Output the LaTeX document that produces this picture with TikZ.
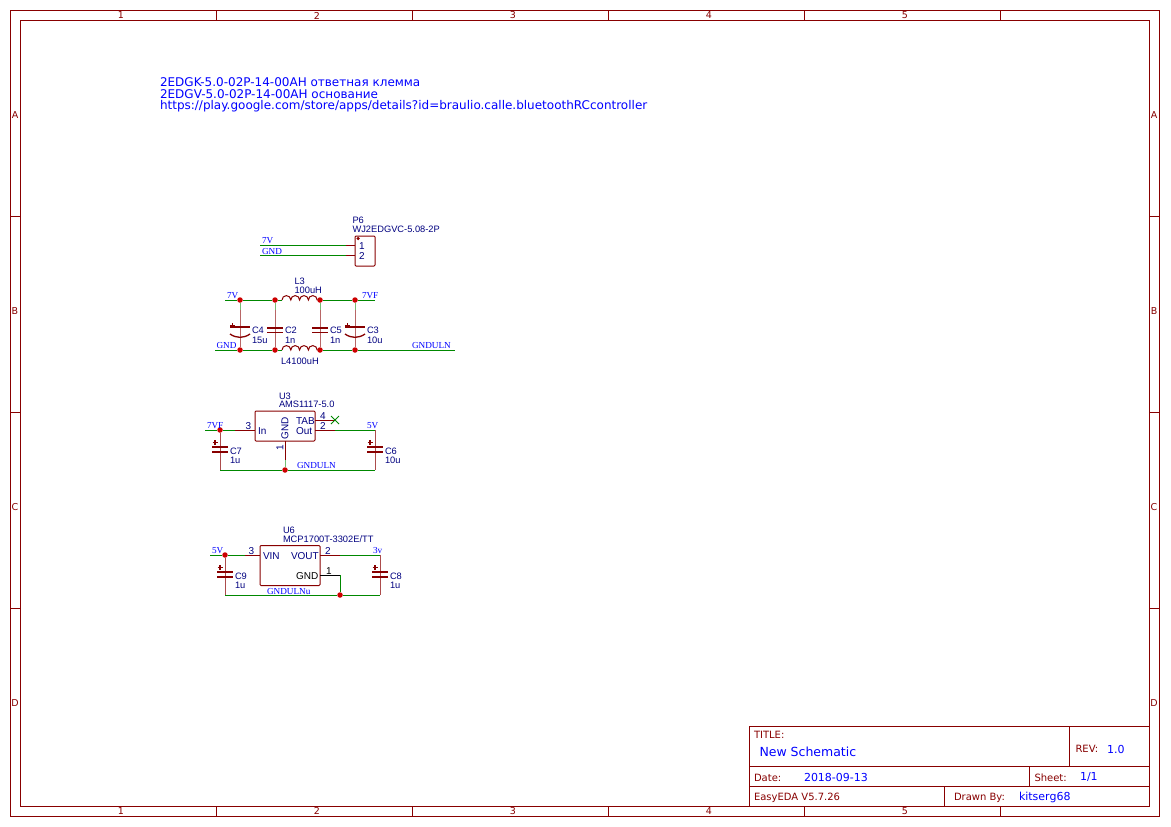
\documentclass[tikz,border=0pt]{standalone}
\usepackage{fontspec}
\setmainfont{DejaVu Sans}
\newfontfamily\partfont{Liberation Sans}
\newfontfamily\netfont{Liberation Serif}
\usetikzlibrary{positioning,calc}
\definecolor{framered}{HTML}{880000}
\definecolor{wiregreen}{HTML}{008800}
\definecolor{dotred}{HTML}{CC0000}
\definecolor{partblue}{HTML}{000080}
\definecolor{noteblue}{HTML}{0000FF}

\begin{document}
\begin{tikzpicture}[x=1pt, y=-1pt, semithick]
	\tikzstyle{every node}=[inner sep=0pt, outer sep=0pt]
	\tikzstyle{frame}=[draw=framered, line width=1pt]
	\tikzstyle{zone}=[text=framered, font=\fontsize{9.5}{10}\selectfont]
	\tikzstyle{tb}=[text=framered, anchor=west, font=\fontsize{10}{11}\selectfont]
	\tikzstyle{tbval}=[text=noteblue, anchor=west, font=\fontsize{11}{12}\selectfont]
	\tikzstyle{note}=[text=noteblue, anchor=west, font=\fontsize{12}{13}\selectfont]
	\tikzstyle{part}=[text=partblue, anchor=west, font=\partfont\fontsize{9.3}{10}\selectfont]
	\tikzstyle{pinno}=[text=partblue, anchor=west, font=\partfont\fontsize{10}{10}\selectfont]
	\tikzstyle{net}=[text=noteblue, anchor=west, font=\netfont\fontsize{9.2}{10}\selectfont]
	\tikzstyle{wire}=[draw=wiregreen, line width=1pt]
	\tikzstyle{pinline}=[draw=framered, line width=1pt]
	\tikzstyle{symbol}=[draw=framered, line width=1pt, rounded corners=1pt]
	\tikzstyle{junction}=[circle, fill=dotred, minimum size=5.5pt]
	\tikzstyle{plate}=[draw=framered, line width=1.3pt]
	\tikzstyle{fatplate}=[draw=framered, line width=2.5pt]

	\useasboundingbox (0,0) rectangle (1171,827);
	\fill[white] (0,0) rectangle (1171,827);

	% sheet frame
	\coordinate (outerTL) at (10,10.7);
	\coordinate (outerBR) at (1159,816);
	\coordinate (innerTL) at (20,20);
	\coordinate (innerBR) at (1149,806);
	\draw[frame] (outerTL) rectangle (outerBR);
	\draw[frame] (innerTL) rectangle (innerBR);
	\draw[frame] (216,11) -- (216,20) (412,11) -- (412,20) (608,11) -- (608,20) (804,11) -- (804,20) (1000,11) -- (1000,20);
	\draw[frame] (216,806) -- (216,816) (412,806) -- (412,816) (608,806) -- (608,816) (804,806) -- (804,816) (1000,806) -- (1000,816);
	\draw[frame] (10,216) -- (20,216) (10,412) -- (20,412) (10,608) -- (20,608);
	\draw[frame] (1149,216) -- (1159,216) (1149,412) -- (1159,412) (1149,608) -- (1159,608);
	\node[zone] (top1) at (121,15.5) {1};
	\node[zone] (top2) at (317,15.5) {2};
	\node[zone] (top3) at (513,15.5) {3};
	\node[zone] (top4) at (709,15.5) {4};
	\node[zone] (top5) at (905,15.5) {5};
	\node[zone] (bot1) at (121,811) {1};
	\node[zone] (bot2) at (317,811) {2};
	\node[zone] (bot3) at (513,811) {3};
	\node[zone] (bot4) at (709,811) {4};
	\node[zone] (bot5) at (905,811) {5};
	\node[zone] (leftA) at (15,115.5) {A};
	\node[zone] (leftB) at (15,311.5) {B};
	\node[zone] (leftC) at (15,507.5) {C};
	\node[zone] (leftD) at (15,703.5) {D};
	\node[zone] (rightA) at (1154,115.5) {A};
	\node[zone] (rightB) at (1154,311.5) {B};
	\node[zone] (rightC) at (1154,507.5) {C};
	\node[zone] (rightD) at (1154,703.5) {D};

	% title block
	\draw[frame, fill=white] (749,726.7) rectangle (1149,806);
	\draw[frame] (749,766) -- (1149,766) (749,786) -- (1149,786);
	\draw[frame] (1069,726.7) -- (1069,766) (1029,766) -- (1029,786) (944,786) -- (944,806);
	\node[tb] (titleLbl) at (754,734.5) {TITLE:};
	\node[tbval, font=\fontsize{12.5}{13}\selectfont] (titleVal) at (759.5,752) {New Schematic};
	\node[tb] (revLbl) at (1075.5,748.5) {REV:};
	\node[tbval] (revVal) at (1107,749) {1.0};
	\node[tb] (dateLbl) at (754,777.5) {Date:};
	\node[tbval] (dateVal) at (804,777) {2018-09-13};
	\node[tb] (sheetLbl) at (1034.5,777.5) {Sheet:};
	\node[tbval] (sheetVal) at (1080,777) {1/1};
	\node[tb] (editor) at (754,797.5) {EasyEDA V5.7.26};
	\node[tb] (drawnLbl) at (954,797.5) {Drawn By:};
	\node[tbval] (drawnVal) at (1019,797) {kitserg68};

	% notes
	\node[note] (note1) at (160,82) {2EDGK-5.0-02P-14-00AH ответная клемма};
	\node[note] (note2) [below=12pt of note1.west, anchor=west] {2EDGV-5.0-02P-14-00AH основание};
	\node[note] (note3) [below=12pt of note2.west, anchor=west] {https://play.google.com/store/apps/details?id=braulio.calle.bluetoothRCcontroller};

	% P6
	\node[symbol, draw, minimum width=20pt, minimum height=30pt] (P6) at (365,251) {};
	\node[part] (P6ref) at (352.5,220.5) {P6};
	\node[part] (P6val) [below=9pt of P6ref.west, anchor=west] {WJ2EDGVC-5.08-2P};
	\node[junction, minimum size=3.5pt, fill=framered] (P6dot) at (358,238.5) {};
	\node[pinno] (P6n1) at (359,246.5) {1};
	\node[pinno] (P6n2) at (359,256.5) {2};
	\coordinate (P6a) at (260,245.5);
	\coordinate (P6b) at (260,255.5);
	\coordinate (P6c) at (346,245.5);
	\coordinate (P6d) at (346,255.5);
	\draw[wire] (P6a) -- (P6c);
	\draw[wire] (P6b) -- (P6d);
	\draw[pinline] (P6c) -- (P6.west |- P6c);
	\draw[pinline] (P6d) -- (P6.west |- P6d);
	\node[net] (P6net1) at (262,240.5) {7V};
	\node[net] (P6net2) at (262,251) {GND};

	% input filter
	\node[junction] (F1) at (240,300) {};
	\node[junction] (F2) at (275,300) {};
	\node[junction] (F3) at (320,300) {};
	\node[junction] (F4) at (355,300) {};
	\node[junction] (F5) at (240,350) {};
	\node[junction] (F6) at (275,350) {};
	\node[junction] (F7) at (320,350) {};
	\node[junction] (F8) at (355,350) {};
	\coordinate (Fa) at (225,300);
	\coordinate (Fb) at (375,300);
	\coordinate (Fc) at (215,350);
	\coordinate (Fd) at (455,350);
	\coordinate (L3a) at (282,300);
	\coordinate (L4a) at (282,350);
	\draw[wire] (Fa) -- (F1) -- (F2) -- (L3a);
	\draw[wire] (F3) -- (F4) -- (Fb);
	\draw[wire] (Fc) -- (F5) -- (F6) -- (L4a);
	\draw[wire] (F7) -- (F8) -- (Fd);
	\draw[pinline] (L3a) arc[start angle=180, end angle=0, radius=4.4pt] arc[start angle=180, end angle=0, radius=4.4pt] arc[start angle=180, end angle=0, radius=4.4pt] arc[start angle=180, end angle=0, radius=4.4pt] -- (F3);
	\draw[pinline] (L4a) arc[start angle=180, end angle=0, radius=4.4pt] arc[start angle=180, end angle=0, radius=4.4pt] arc[start angle=180, end angle=0, radius=4.4pt] arc[start angle=180, end angle=0, radius=4.4pt] -- (F7);
	\coordinate (C4up) at (240,310);
	\coordinate (C2up) at (275,310);
	\coordinate (C5up) at (320,310);
	\coordinate (C3up) at (355,310);
	\draw[wire, draw=wiregreen!55] (F1) -- (C4up);
	\draw[wire, draw=wiregreen!55] (F2) -- (C2up);
	\draw[wire, draw=wiregreen!55] (F3) -- (C5up);
	\draw[wire, draw=wiregreen!55] (F4) -- (C3up);
	\draw[pinline, draw=framered!60] (C4up) -- (F5);
	\draw[pinline, draw=framered!60] (C2up) -- (F6);
	\draw[pinline, draw=framered!60] (C5up) -- (F7);
	\draw[pinline, draw=framered!60] (C3up) -- (F8);
	\coordinate (C4a) at (230,327);
	\coordinate (C4b) at (250,327);
	\coordinate (C4c) at (230,334);
	\coordinate (C4d) at (250,334);
	\coordinate (C3a) at (345,327);
	\coordinate (C3b) at (365,327);
	\coordinate (C3c) at (345,334);
	\coordinate (C3d) at (365,334);
	\coordinate (C2a) at (267,328);
	\coordinate (C2b) at (283,328);
	\coordinate (C2c) at (267,332.5);
	\coordinate (C2d) at (283,332.5);
	\coordinate (C5a) at (312,328);
	\coordinate (C5b) at (328,328);
	\coordinate (C5c) at (312,332.5);
	\coordinate (C5d) at (328,332.5);
	\draw[plate] (C4a) -- (C4b);
	\draw[plate] (C4c) to[bend right=35] (C4d);
	\draw[plate] (C3a) -- (C3b);
	\draw[plate] (C3c) to[bend right=35] (C3d);
	\draw[plate] (C2a) -- (C2b);
	\draw[plate] (C2c) -- (C2d);
	\draw[plate] (C5a) -- (C5b);
	\draw[plate] (C5c) -- (C5d);
	\draw[plate] (230,325.5) -- (235,325.5) (232.5,323) -- (232.5,328);
	\draw[plate] (345,325.5) -- (350,325.5) (347.5,323) -- (347.5,328);
	\node[part] (L3ref) at (294.5,281.5) {L3};
	\node[part] (L3val) [below=9pt of L3ref.west, anchor=west] {100uH};
	\node[part] (L4ref) at (281,361.5) {L4100uH};
	\node[part] (C4ref) at (252,330) {C4};
	\node[part] (C4val) [below=10pt of C4ref.west, anchor=west] {15u};
	\node[part] (C2ref) at (285,330) {C2};
	\node[part] (C2val) [below=10pt of C2ref.west, anchor=west] {1n};
	\node[part] (C5ref) at (330,330) {C5};
	\node[part] (C5val) [below=10pt of C5ref.west, anchor=west] {1n};
	\node[part] (C3ref) at (367,330) {C3};
	\node[part] (C3val) [below=10pt of C3ref.west, anchor=west] {10u};
	\node[net] (Fnet1) at (227,295.5) {7V};
	\node[net] (Fnet2) at (362,295.5) {7VF};
	\node[net] (Fnet3) at (216.5,345.5) {GND};
	\node[net] (Fnet4) at (412,345.5) {GNDULN};

	% U3
	\node[symbol, draw, minimum width=60pt, minimum height=30pt] (U3) at (285,426) {};
	\node[part] (U3ref) at (279,396) {U3};
	\node[part] (U3val) [below=8.5pt of U3ref.west, anchor=west] {AMS1117-5.0};
	\node[pinno] (U3in) at (258,431) {In};
	\node[pinno] (U3tab) at (296,421) {TAB};
	\node[pinno] (U3out) at (296,431) {Out};
	\node[pinno, anchor=center, rotate=90] (U3gnd) at (285,428) {GND};
	\node[pinno] (U3n3) at (245.5,426.5) {3};
	\node[pinno] (U3n4) at (320,416.5) {4};
	\node[pinno] (U3n2) at (320,426.5) {2};
	\node[pinno, anchor=center, rotate=90] (U3n1) at (280,448) {1};
	\node[junction] (U3j1) at (220,430) {};
	\node[junction] (U3j2) at (285,470) {};
	\coordinate (U3a) at (205,430);
	\coordinate (U3b) at (235,430);
	\coordinate (U3c) at (335,430);
	\coordinate (U3d) at (375,430);
	\coordinate (U3e) at (335,420);
	\coordinate (U3f) at (285,460);
	\coordinate (U3g) at (220,470);
	\coordinate (U3h) at (375,470);
	\draw[wire] (U3a) -- (U3j1) -- (U3b);
	\draw[pinline] (U3b) -- (U3.west |- U3b);
	\draw[pinline] (U3.east |- U3c) -- (U3c);
	\draw[wire] (U3c) -- (U3d);
	\draw[pinline] (U3.east |- U3e) -- (U3e);
	\draw[wire] (331,416) -- (339,424) (339,416) -- (331,424);
	\draw[pinline] (U3.south) -- (U3f);
	\draw[wire, draw=wiregreen!55] (U3f) -- (U3j2);
	\draw[pinline, draw=framered!70] (U3j1) -- (U3g);
	\draw[pinline, draw=framered!70] (U3d) -- (U3h);
	\draw[wire] (U3g) -- (U3j2) -- (U3h);
	\draw[plate] (212,447) -- (228,447);
	\draw[fatplate] (212,452) -- (228,452);
	\draw[plate] (367,447) -- (383,447);
	\draw[fatplate] (367,452) -- (383,452);
	\draw[plate] (212.5,442.5) -- (217.5,442.5) (215,440) -- (215,445);
	\draw[plate] (367.5,442.5) -- (372.5,442.5) (370,440) -- (370,445);
	\node[part] (C7ref) at (230,451) {C7};
	\node[part] (C7val) [below=9.5pt of C7ref.west, anchor=west] {1u};
	\node[part] (C6ref) at (385,451) {C6};
	\node[part] (C6val) [below=9.5pt of C6ref.west, anchor=west] {10u};
	\node[net] (U3net1) at (207,425.5) {7VF};
	\node[net] (U3net2) at (367,425.5) {5V};
	\node[net] (U3net3) at (297,465.5) {GNDULN};

	% U6
	\node[symbol, draw, minimum width=60pt, minimum height=40pt] (U6) at (290,565.5) {};
	\node[part] (U6ref) at (283,530.5) {U6};
	\node[part] (U6val) [below=8.5pt of U6ref.west, anchor=west] {MCP1700T-3302E/TT};
	\node[pinno] (U6vin) at (263,556) {VIN};
	\node[pinno] (U6vout) at (291,556) {VOUT};
	\node[pinno, text=black] (U6gnd) at (296,576) {GND};
	\node[pinno] (U6n3) at (248.5,551.5) {3};
	\node[pinno] (U6n2) at (325,551.5) {2};
	\node[pinno, text=black] (U6n1) at (326,571.5) {1};
	\node[junction] (U6j1) at (225,555) {};
	\node[junction] (U6j2) at (340,595) {};
	\coordinate (U6a) at (210,555);
	\coordinate (U6b) at (245,555);
	\coordinate (U6c) at (340,555);
	\coordinate (U6d) at (380,555);
	\coordinate (U6e) at (340,575);
	\coordinate (U6f) at (225,595);
	\coordinate (U6g) at (380,595);
	\draw[wire] (U6a) -- (U6j1) -- (U6b);
	\draw[pinline] (U6b) -- (U6.west |- U6b);
	\draw[pinline] (U6.east |- U6c) -- (U6c);
	\draw[wire] (U6c) -- (U6d);
	\draw[draw=black, line width=1pt] (U6.east |- U6e) -- (U6e);
	\draw[wire] (U6e) -- (U6j2);
	\draw[pinline, draw=framered!70] (U6j1) -- (U6f);
	\draw[pinline, draw=framered!70] (U6d) -- (U6g);
	\draw[wire] (U6f) -- (U6j2) -- (U6g);
	\draw[plate] (217,572) -- (233,572);
	\draw[fatplate] (217,577) -- (233,577);
	\draw[plate] (372,572) -- (388,572);
	\draw[fatplate] (372,577) -- (388,577);
	\draw[plate] (217.5,567.5) -- (222.5,567.5) (220,565) -- (220,570);
	\draw[plate] (372.5,567.5) -- (377.5,567.5) (375,565) -- (375,570);
	\node[part] (C9ref) at (235,576) {C9};
	\node[part] (C9val) [below=9.5pt of C9ref.west, anchor=west] {1u};
	\node[part] (C8ref) at (390,576) {C8};
	\node[part] (C8val) [below=9.5pt of C8ref.west, anchor=west] {1u};
	\node[net] (U6net1) at (212,550.5) {5V};
	\node[net] (U6net2) at (373,550.5) {3v};
	\node[net] (U6net3) at (267,591) {GNDULNu};
\end{tikzpicture}
\end{document}
